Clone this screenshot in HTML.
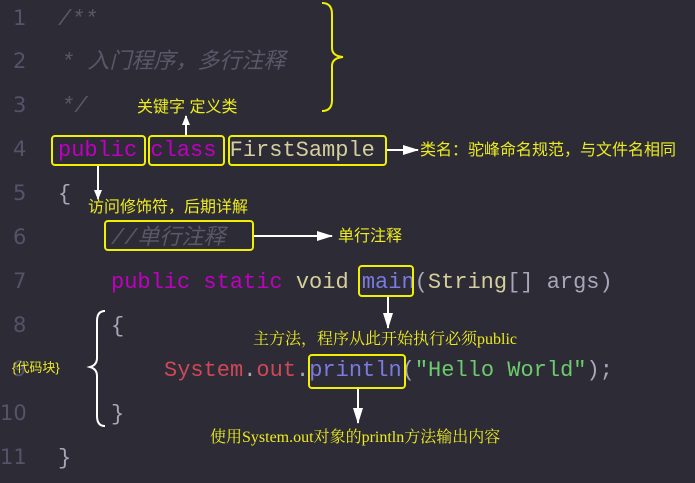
<!DOCTYPE html>
<html><head><meta charset="utf-8"><style>
html,body{margin:0;padding:0;background:#2d2b36;width:695px;height:483px;overflow:hidden}
svg{display:block}
.ln{font-family:"DejaVu Sans","Liberation Sans",sans-serif;font-size:21px;fill:#55536a}
.c{font-family:"Liberation Mono","DejaVu Sans Mono","Noto Sans CJK SC",monospace;font-size:22px}
.a{font-family:"Liberation Sans","Noto Sans CJK SC",sans-serif;font-size:16px;fill:#ecec20}
.s{font-family:"Liberation Serif","Noto Serif CJK SC",serif;font-size:16px;fill:#ecec20}
</style></head><body>
<svg width="695" height="483" viewBox="0 0 695 483" xmlns="http://www.w3.org/2000/svg">
<defs><marker id="ar" markerWidth="10" markerHeight="8" refX="9" refY="4" orient="auto" markerUnits="userSpaceOnUse"><path d="M0,0 L10,4 L0,8 z" fill="#fff"/></marker>
<marker id="ar2" markerWidth="16" markerHeight="10" refX="15" refY="5" orient="auto" markerUnits="userSpaceOnUse"><path d="M0,0 L16,5 L0,10 z" fill="#fff"/></marker></defs>
<g class="ln">
<text x="13" y="25">1</text><text x="13" y="68">2</text><text x="13" y="112">3</text><text x="13" y="156">4</text>
<text x="13" y="200">5</text><text x="13" y="244">6</text><text x="13" y="288">7</text><text x="13" y="332">8</text>
<text x="13" y="376">9</text><text x="0" y="420">10</text><text x="0" y="464">11</text></g>
<g class="c">
<text x="58" y="25" fill="#5a5868" font-style="italic">/**</text>
<text x="61" y="68" fill="#5a5868" font-style="italic">* 入门程序，多行注释</text>
<text x="61" y="112" fill="#5a5868" font-style="italic">*/</text>
<text x="58" y="156"><tspan fill="#c000c0">public</tspan> <tspan fill="#c000c0">class</tspan> <tspan fill="#d4cf9c">FirstSample</tspan></text>
<text x="58" y="200" fill="#a8a6b8">{</text>
<text x="111" y="244" fill="#5a5868" font-style="italic">//单行注释</text>
<text x="111" y="288"><tspan fill="#c000c0">public static</tspan> <tspan fill="#d4cf9c">void</tspan> <tspan fill="#7a7ae0">main</tspan><tspan fill="#a8a6b8">(</tspan><tspan fill="#d4cf9c">String</tspan><tspan fill="#a8a6b8">[] args)</tspan></text>
<text x="111" y="332" fill="#a8a6b8">{</text>
<text x="164" y="376"><tspan fill="#d04858">System</tspan><tspan fill="#a8a6b8">.</tspan><tspan fill="#d04858">out</tspan><tspan fill="#a8a6b8">.</tspan><tspan fill="#7a7ae0">println</tspan><tspan fill="#a8a6b8">(</tspan><tspan fill="#6ccb6c">"Hello World"</tspan><tspan fill="#a8a6b8">);</tspan></text>
<text x="111" y="420" fill="#a8a6b8">}</text>
<text x="58" y="464" fill="#a8a6b8">}</text>
</g>
<g fill="none" stroke="#f0f000" stroke-width="2">
<rect x="52" y="136" width="93" height="29" rx="3"/>
<rect x="149" y="136" width="75" height="29" rx="3"/>
<rect x="229" y="136" width="157" height="29" rx="3"/>
<rect x="105" y="221" width="148" height="29" rx="3"/>
<rect x="359" y="266" width="54" height="30" rx="3"/>
<rect x="309" y="355" width="96" height="33" rx="3"/>
<path d="M322,3 Q332,3 332,14 L332,48 Q332,56 343,57 Q332,58 332,66 L332,100 Q332,111 322,111"/>
</g>
<path d="M105,311 Q97,311 97,321 L97,358 Q97,365 90,367 Q97,369 97,376 L97,416 Q97,426 105,426" fill="none" stroke="#fff" stroke-width="2"/>
<g stroke="#fff" stroke-width="2" fill="none">
<line x1="186" y1="135" x2="186" y2="116" marker-end="url(#ar)"/>
<line x1="98" y1="166" x2="98" y2="199" marker-end="url(#ar)"/>
<line x1="387" y1="150" x2="418" y2="150" marker-end="url(#ar2)"/>
<line x1="254" y1="236" x2="332" y2="236" marker-end="url(#ar2)"/>
<line x1="388" y1="297" x2="388" y2="328" marker-end="url(#ar2)"/>
<line x1="358" y1="389" x2="358" y2="423" marker-end="url(#ar2)"/>
</g>
<text class="a" x="137" y="112">关键字 定义类</text>
<text class="a" x="420" y="155">类名：驼峰命名规范，与文件名相同</text>
<text class="a" x="88" y="212">访问修饰符，后期详解</text>
<text class="a" x="338" y="241">单行注释</text>
<text class="s" x="253" y="344">主方法，程序从此开始执行必须public</text>
<text class="a" x="12" y="372" style="font-size:13px">{代码块}</text>
<text class="s" x="210" y="442">使用System.out对象的println方法输出内容</text>
</svg>
</body></html>
